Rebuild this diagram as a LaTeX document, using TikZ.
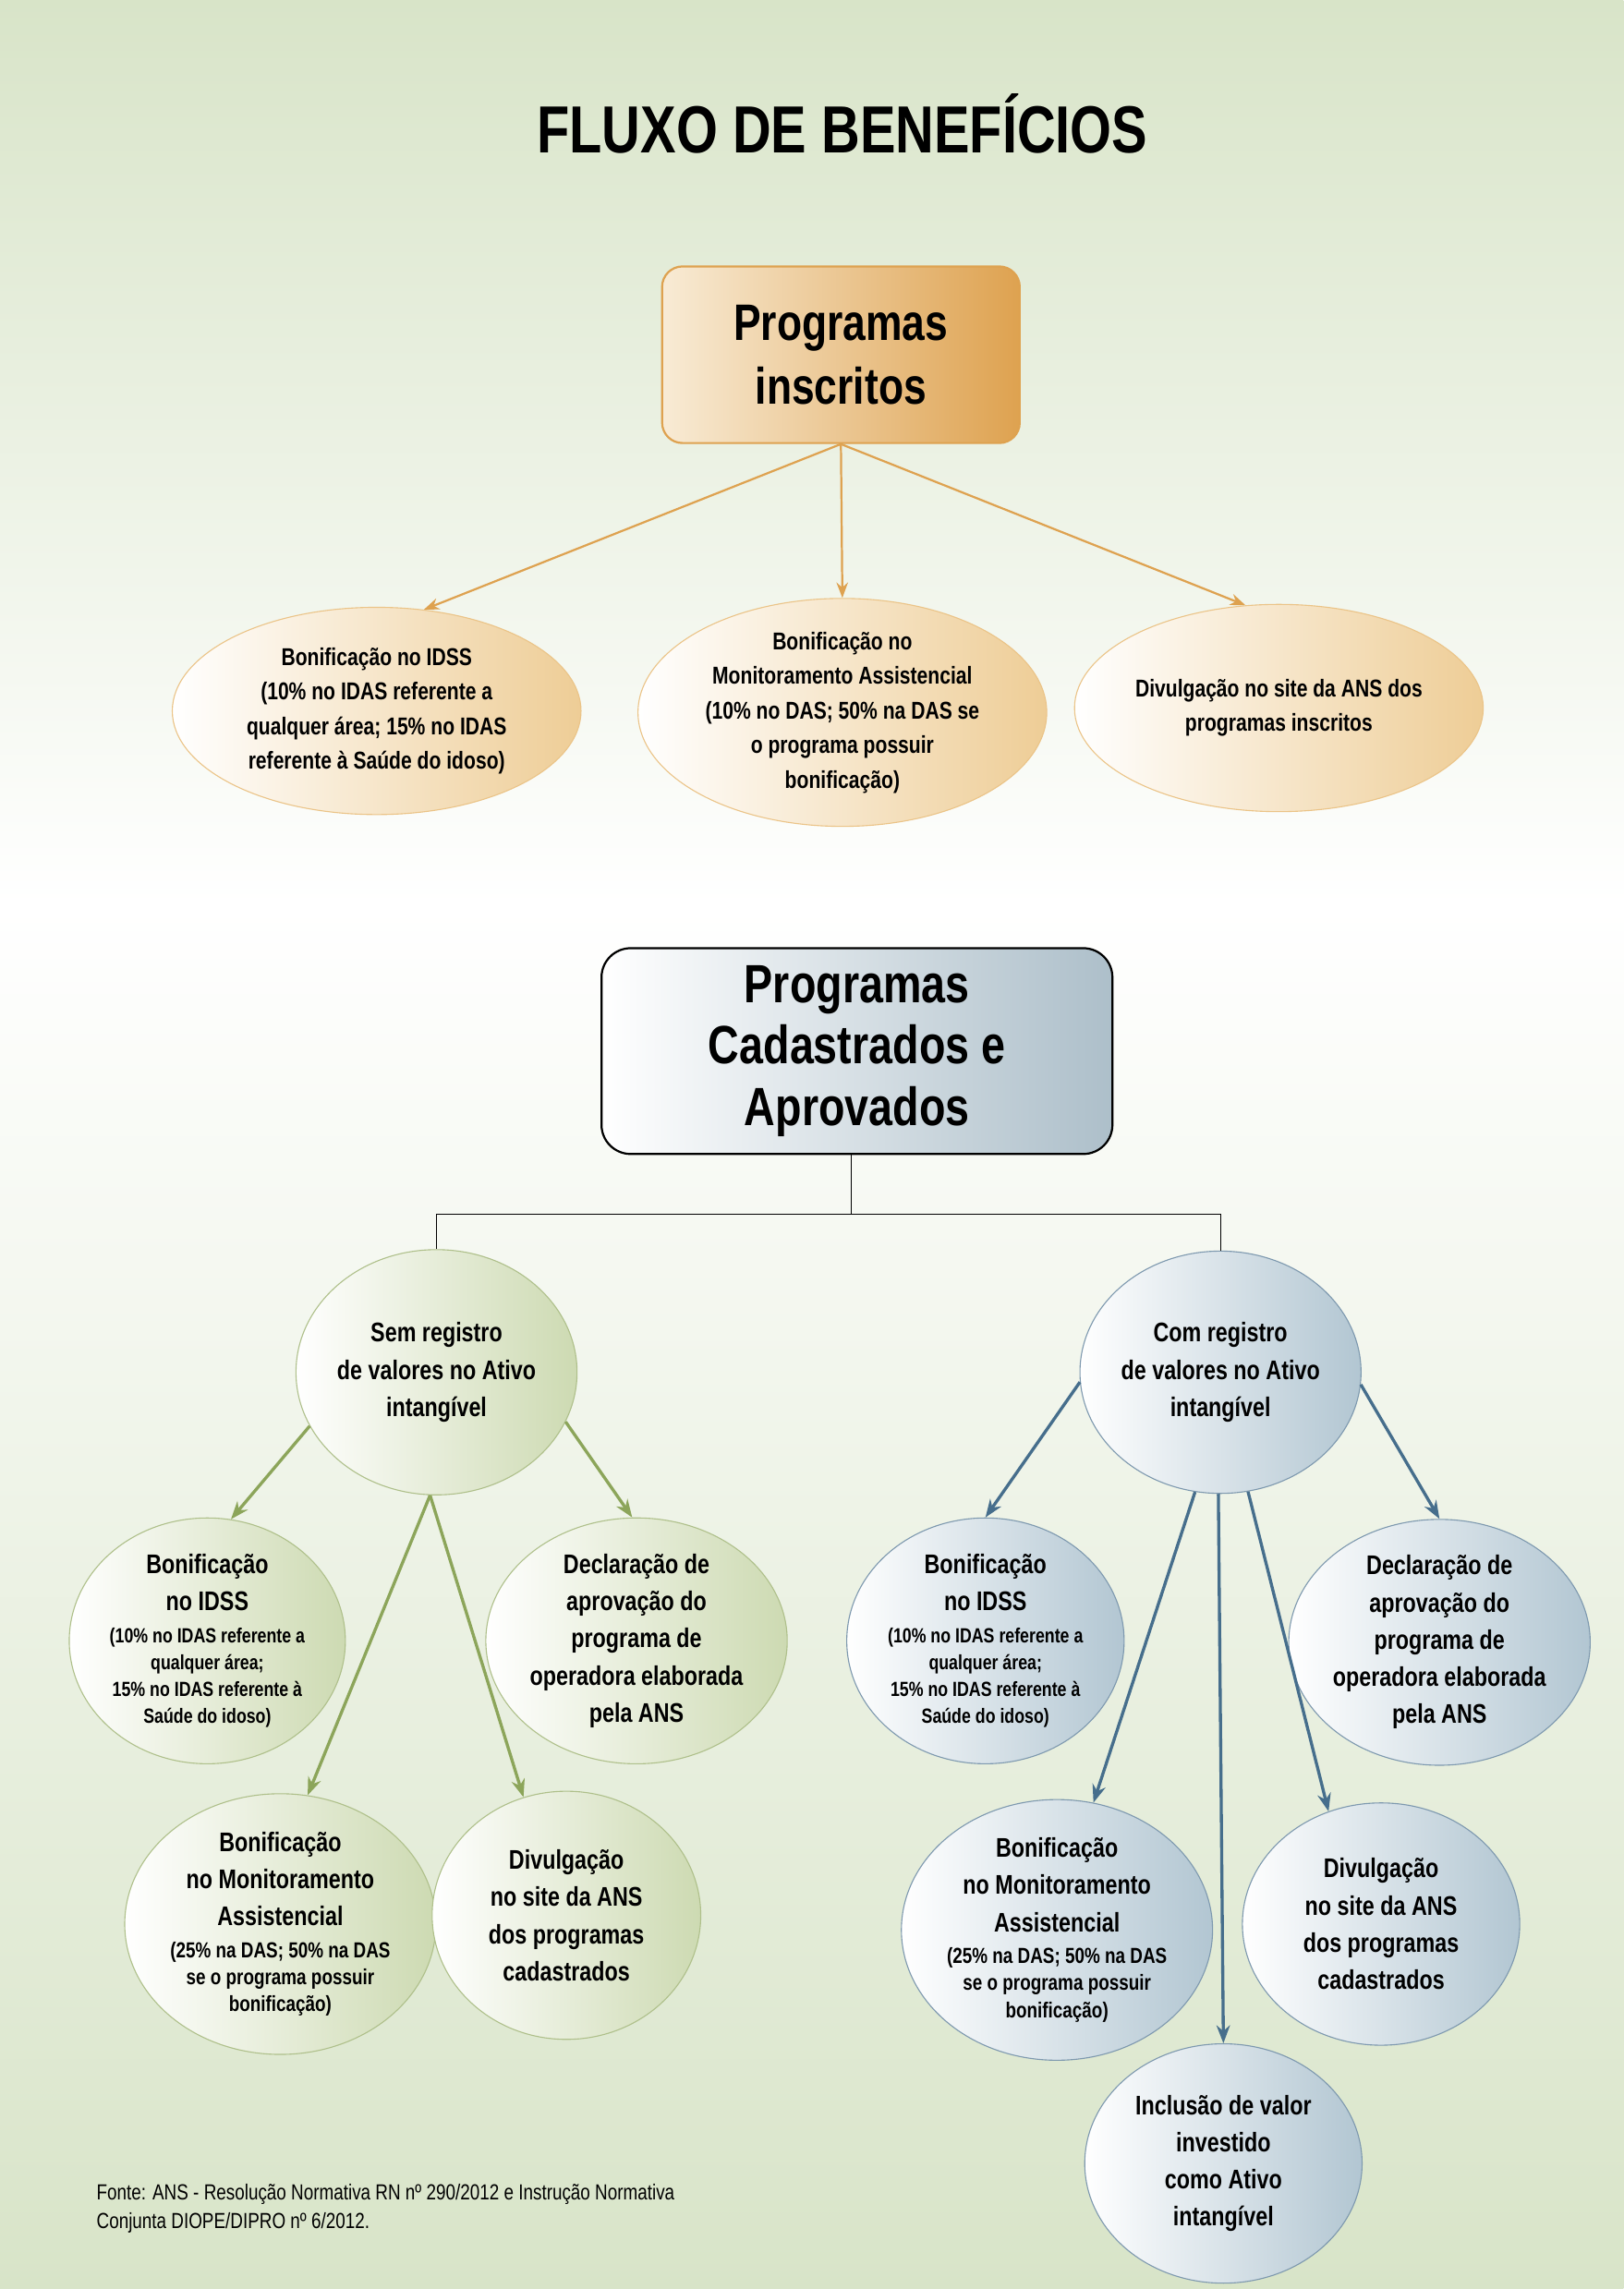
\documentclass[tikz,border=0pt]{standalone}
\usepackage{fontspec}
\setmainfont{Liberation Sans}[FakeStretch=0.8]
\usetikzlibrary{shapes.geometric,arrows.meta}
\definecolor{bgg}{RGB}{216,228,200}
\definecolor{org}{RGB}{222,162,80}
\definecolor{orgl}{RGB}{238,205,150}
\definecolor{grn}{RGB}{140,165,90}
\definecolor{grnl}{RGB}{205,218,178}
\definecolor{blu}{RGB}{70,110,140}
\definecolor{blul}{RGB}{178,198,210}
\newcommand\U{0.5691pt}
\begin{document}
\begin{tikzpicture}[x=0.02cm,y=-0.02cm,
 el/.style={ellipse,inner sep=0pt,align=center,font=\bfseries\fontsize{9.5}{13.5}\selectfont},
 oel/.style={el,draw=orgl!80!org,left color=white,right color=orgl,minimum width=280*\U,minimum height=142*\U},
 gel/.style={el,draw=grn!70,left color=white,right color=grnl,minimum width=186*\U,minimum height=168*\U,font=\bfseries\fontsize{10.5}{14.5}\selectfont},
 bel/.style={el,draw=blu!70,left color=white,right color=blul,minimum width=190*\U,minimum height=166*\U,font=\bfseries\fontsize{10.5}{14.5}\selectfont},
 oar/.style={draw=org,thick,-{Stealth[length=6pt]}},
 gar/.style={draw=grn,very thick,-{Stealth[length=7pt]}},
 bar/.style={draw=blu,very thick,-{Stealth[length=7pt]}}]
\useasboundingbox (0,0) rectangle (1112,1568);
\shade[top color=bgg,bottom color=white] (0,0) rectangle (1112,620);
\shade[top color=white,bottom color=bgg] (0,620) rectangle (1112,1568);
\node[font=\bfseries\fontsize{26}{28}\selectfont] (title) at (577,85) {FLUXO DE BENEFÍCIOS};
\node[draw=org,thick,rounded corners=14*\U,left color=orgl!40,right color=org,minimum width=245*\U,minimum height=121*\U,align=center,font=\bfseries\fontsize{20}{25}\selectfont] (p1) at (576,243) {Programas\\inscritos};
\node[oel] (e1) at (258,487) {Bonificação no IDSS\\(10\% no IDAS referente a\\qualquer área; 15\% no IDAS\\referente à Saúde do idoso)};
\node[oel] (e2) at (577,488) {Bonificação no\\Monitoramento Assistencial\\(10\% no DAS; 50\% na DAS se\\o programa possuir\\bonificação)};
\node[oel] (e3) at (876,485) {Divulgação no site da ANS dos\\programas inscritos};
\draw[oar] (p1.south) -- (e1.65);
\draw[oar] (p1.south) -- (e2.north);
\draw[oar] (p1.south) -- (e3.108);
\node[draw,thick,rounded corners=20*\U,left color=white,right color=blul!90!gray,minimum width=350*\U,minimum height=141*\U,align=center,font=\bfseries\fontsize{21}{24}\selectfont] (p2) at (587,720) {Programas\\Cadastrados e\\Aprovados};
\node[gel] (S) at (299,940) {Sem registro\\de valores no Ativo\\intangível};
\node[bel] (C) at (836,940) {Com registro\\de valores no Ativo\\intangível};
\coordinate (j) at (583,832);
\draw (p2.south -| j) -- (j);
\draw (S.north) |- (j) -| (C.north);
\node[gel] (B1) at (142,1124) {Bonificação\\no IDSS\\[-2pt]{\fontsize{8}{10.5}\selectfont (10\% no IDAS referente  a}\\[-4pt]{\fontsize{8}{10.5}\selectfont qualquer área;}\\[-4pt]{\fontsize{8}{10.5}\selectfont 15\% no IDAS referente à}\\[-4pt]{\fontsize{8}{10.5}\selectfont Saúde do idoso)}};
\node[gel] (D1) at (436,1124) {Declaração de\\aprovação do\\programa de\\operadora elaborada\\pela ANS};
\node[gel,minimum height=164*\U] (M1) at (192,1318) {Bonificação\\no Monitoramento\\Assistencial\\[-2pt]{\fontsize{8.5}{11}\selectfont (25\% na DAS; 50\% na DAS}\\[-4pt]{\fontsize{8.5}{11}\selectfont se o programa possuir}\\[-4pt]{\fontsize{8.5}{11}\selectfont bonificação)}};
\node[gel,minimum width=184*\U,minimum height=170*\U] (V1) at (388,1312) {Divulgação\\no site da ANS\\dos programas\\cadastrados};
\draw[gar] (S.-157) -- (B1.79);
\draw[gar] (S.-93) -- (M1.78);
\draw[gar] (S.-93) -- (V1.110);
\draw[gar] (S.-21) -- (D1.92);
\node[bel] (B2) at (675,1124) {Bonificação\\no IDSS\\[-2pt]{\fontsize{8}{10.5}\selectfont (10\% no IDAS referente a}\\[-4pt]{\fontsize{8}{10.5}\selectfont qualquer área;}\\[-4pt]{\fontsize{8}{10.5}\selectfont 15\% no IDAS referente à}\\[-4pt]{\fontsize{8}{10.5}\selectfont Saúde do idoso)}};
\node[bel] (D2) at (986,1125) {Declaração de\\aprovação do\\programa de\\operadora elaborada\\pela ANS};
\node[bel] (M2) at (724,1322) {Bonificação\\no Monitoramento\\Assistencial\\[-2pt]{\fontsize{8.5}{11}\selectfont (25\% na DAS; 50\% na DAS}\\[-4pt]{\fontsize{8.5}{11}\selectfont se o programa possuir}\\[-4pt]{\fontsize{8.5}{11}\selectfont bonificação)}};
\node[bel] (V2) at (946,1318) {Divulgação\\no site da ANS\\dos programas\\cadastrados};
\node[bel,minimum height=164*\U] (I) at (838,1482) {Inclusão de valor\\investido\\como Ativo\\intangível};
\draw[bar] (C.-176) -- (B2.90);
\draw[bar] (C.-102) -- (M2.74);
\draw[bar] (C.-91) -- (I.90);
\draw[bar] (C.-77) -- (V2.115);
\draw[bar] (C.-5) -- (D2.90);
\node[anchor=north west,align=left,font=\fontsize{8.5}{11}\selectfont] (fonte) at (60,1490) {Fonte: ANS - Resolução Normativa RN nº 290/2012 e Instrução Normativa\\Conjunta DIOPE/DIPRO nº 6/2012.};
\end{tikzpicture}
\end{document}
